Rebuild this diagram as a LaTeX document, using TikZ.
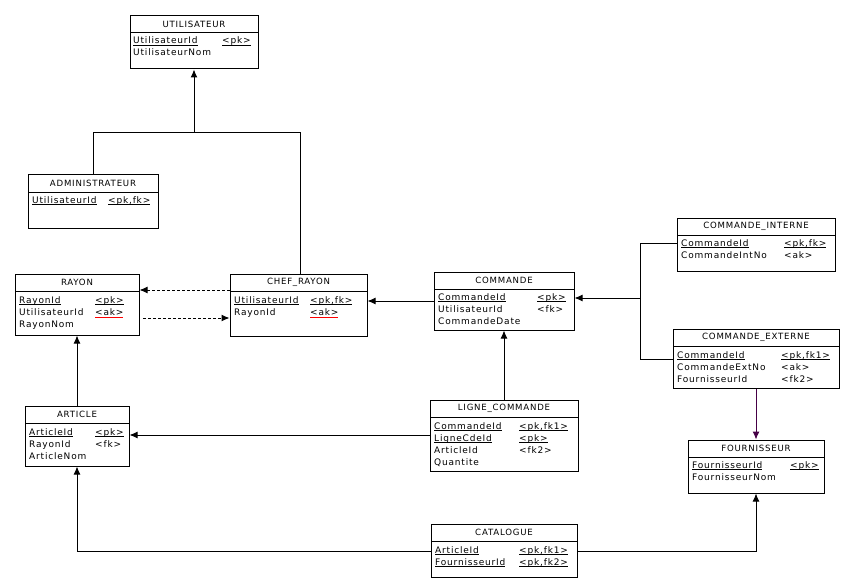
\documentclass[tikz,border=0pt]{standalone}
\usepackage{fontspec}
\setmainfont{DejaVu Sans}[LetterSpace=9]
\usetikzlibrary{positioning,arrows.meta,calc}
\tikzstyle{ent} = [rectangle, draw, line width=1pt, inner sep=0pt]
\tikzstyle{ttl} = [font=\fontsize{8.6}{9}\selectfont, inner sep=0pt]
\tikzstyle{fld} = [anchor=base west, font=\fontsize{9}{9}\selectfont, inner sep=0pt]
\tikzstyle{line} = [draw, line width=1pt, -{Latex[length=8pt,width=7pt]}]
\tikzstyle{dline} = [draw, line width=1pt, densely dashed, -{Latex[length=8pt,width=7pt]}]
\definecolor{violet}{RGB}{70,0,70}
\newcommand{\pk}[1]{\setbox0\hbox{#1}\rlap{\rule[-2pt]{\wd0}{0.7pt}}#1}
\newcommand{\ak}[1]{\setbox0\hbox{#1}\rlap{\color{red}\rule[-3pt]{\wd0}{1.2pt}}#1}

\begin{document}
\begin{tikzpicture}[x=1pt,y=-1pt]
   \useasboundingbox (0,0) rectangle (853,588);

% Entities %%%%%%%%%%%%%%%%%%%%%%%%%%%%%%%%%%%%%%%%%%%%%%%%%%%%%%%%%
   \node[ent, minimum width=128pt, minimum height=53pt](util) at (194,42.5){};
   \node[ttl](util-t) at (194,24){UTILISATEUR};
   \draw[line width=1pt] (130,33) -- (258,33);
   \node[fld](util-1) at (133,44){\pk{UtilisateurId}};
   \node[fld](util-1k) at (222,44){\pk{<pk>}};
   \node[fld](util-2) at (133,56){UtilisateurNom};

   \node[ent, minimum width=130pt, minimum height=53pt](admin) at (93,201.5){};
   \node[ttl](admin-t) at (93,183){ADMINISTRATEUR};
   \draw[line width=1pt] (28,192) -- (158,192);
   \node[fld](admin-1) at (32,203){\pk{UtilisateurId}};
   \node[fld](admin-1k) at (108,203){\pk{<pk,fk>}};

   \node[ent, minimum width=124pt, minimum height=61pt](rayon) at (77,304.5){};
   \node[ttl](rayon-t) at (77,282){RAYON};
   \draw[line width=1pt] (15,291) -- (139,291);
   \node[fld](rayon-1) at (19,303){\pk{RayonId}};
   \node[fld](rayon-1k) at (95,303){\pk{<pk>}};
   \node[fld](rayon-2) at (19,315){UtilisateurId};
   \node[fld](rayon-2k) at (95,315){\ak{<ak>}};
   \node[fld](rayon-3) at (19,327){RayonNom};

   \node[ent, minimum width=137pt, minimum height=62pt](chef) at (298.5,305){};
   \node[ttl](chef-t) at (298.5,282){CHEF\_RAYON};
   \draw[line width=1pt] (230,291) -- (367,291);
   \node[fld](chef-1) at (234,303){\pk{UtilisateurId}};
   \node[fld](chef-1k) at (310,303){\pk{<pk,fk>}};
   \node[fld](chef-2) at (234,315){RayonId};
   \node[fld](chef-2k) at (310,315){\ak{<ak>}};

   \node[ent, minimum width=140pt, minimum height=58pt](cmd) at (504,301){};
   \node[ttl](cmd-t) at (504,280){COMMANDE};
   \draw[line width=1pt] (434,289) -- (574,289);
   \node[fld](cmd-1) at (438,300){\pk{CommandeId}};
   \node[fld](cmd-1k) at (537,300){\pk{<pk>}};
   \node[fld](cmd-2) at (438,312){UtilisateurId};
   \node[fld](cmd-2k) at (537,312){<fk>};
   \node[fld](cmd-3) at (438,324){CommandeDate};

   \node[ent, minimum width=158pt, minimum height=53pt](cint) at (756,244.5){};
   \node[ttl](cint-t) at (756,226){COMMANDE\_INTERNE};
   \draw[line width=1pt] (677,235) -- (835,235);
   \node[fld](cint-1) at (681,246){\pk{CommandeId}};
   \node[fld](cint-1k) at (784,246){\pk{<pk,fk>}};
   \node[fld](cint-2) at (681,258){CommandeIntNo};
   \node[fld](cint-2k) at (784,258){<ak>};

   \node[ent, minimum width=166pt, minimum height=59pt](cext) at (756,358.5){};
   \node[ttl](cext-t) at (756,337){COMMANDE\_EXTERNE};
   \draw[line width=1pt] (673,346) -- (839,346);
   \node[fld](cext-1) at (677,358){\pk{CommandeId}};
   \node[fld](cext-1k) at (781,358){\pk{<pk,fk1>}};
   \node[fld](cext-2) at (677,370){CommandeExtNo};
   \node[fld](cext-2k) at (781,370){<ak>};
   \node[fld](cext-3) at (677,382){FournisseurId};
   \node[fld](cext-3k) at (781,382){<fk2>};

   \node[ent, minimum width=136pt, minimum height=53pt](four) at (756,466.5){};
   \node[ttl](four-t) at (756,448){FOURNISSEUR};
   \draw[line width=1pt] (688,457) -- (824,457);
   \node[fld](four-1) at (692,468){\pk{FournisseurId}};
   \node[fld](four-1k) at (790,468){\pk{<pk>}};
   \node[fld](four-2) at (692,480){FournisseurNom};

   \node[ent, minimum width=104pt, minimum height=60pt](art) at (77,436){};
   \node[ttl](art-t) at (77,414){ARTICLE};
   \draw[line width=1pt] (25,423) -- (129,423);
   \node[fld](art-1) at (29,435){\pk{ArticleId}};
   \node[fld](art-1k) at (95,435){\pk{<pk>}};
   \node[fld](art-2) at (29,447){RayonId};
   \node[fld](art-2k) at (95,447){<fk>};
   \node[fld](art-3) at (29,459){ArticleNom};

   \node[ent, minimum width=148pt, minimum height=71pt](lig) at (504,435.5){};
   \node[ttl](lig-t) at (504,408){LIGNE\_COMMANDE};
   \draw[line width=1pt] (430,417) -- (578,417);
   \node[fld](lig-1) at (434,429){\pk{CommandeId}};
   \node[fld](lig-1k) at (519,429){\pk{<pk,fk1>}};
   \node[fld](lig-2) at (434,441){\pk{LigneCdeId}};
   \node[fld](lig-2k) at (519,441){\pk{<pk>}};
   \node[fld](lig-3) at (434,453){ArticleId};
   \node[fld](lig-3k) at (519,453){<fk2>};
   \node[fld](lig-4) at (434,465){Quantite};

   \node[ent, minimum width=146pt, minimum height=53pt](cat) at (504,550.5){};
   \node[ttl](cat-t) at (504,532){CATALOGUE};
   \draw[line width=1pt] (431,541) -- (577,541);
   \node[fld](cat-1) at (435,553){\pk{ArticleId}};
   \node[fld](cat-1k) at (519,553){\pk{<pk,fk1>}};
   \node[fld](cat-2) at (435,565){\pk{FournisseurId}};
   \node[fld](cat-2k) at (519,565){\pk{<pk,fk2>}};

% Junction points %%%%%%%%%%%%%%%%%%%%%%%%%%%%%%%%%%%%%%%%%%%%%%%%%%
   \coordinate (inherit) at (194,133);
   \coordinate (cmdjoin) at (640,298);

   % Inheritance
   \path [draw, line width=1pt] (admin.north) |- (inherit);
   \path [draw, line width=1pt] (chef.north -| 300,0) |- (inherit);
   \path [line] (inherit) -- (util.south);

   % Rayon <-> chef
   \path [dline] (chef.west |- 0,290) -- (rayon.east |- 0,290);
   \path [dline] (143,318) -- (chef.west |- 0,318);

   % Commande
   \path [line] (cmd.west |- 0,301) -- (chef.east |- 0,301);
   \path [draw, line width=1pt] (cint.west |- 0,243) -| (cmdjoin) |- (cext.west |- 0,359);
   \path [line] (cmdjoin) -- (cmd.east |- cmdjoin);
   \path [line] (lig.north) -- (cmd.south);
   \path [draw, line width=1pt, violet, -{Latex[length=8pt,width=7pt]}] (cext.south) -- (four.north);

   % Article
   \path [line] (lig.west |- 0,435) -- (art.east |- 0,435);
   \path [line] (art.north) -- (rayon.south);
   \path [line] (cat.west |- 0,551) -| (art.south);
   \path [line] (cat.east |- 0,551) -| (four.south);

\end{tikzpicture}
\end{document}
